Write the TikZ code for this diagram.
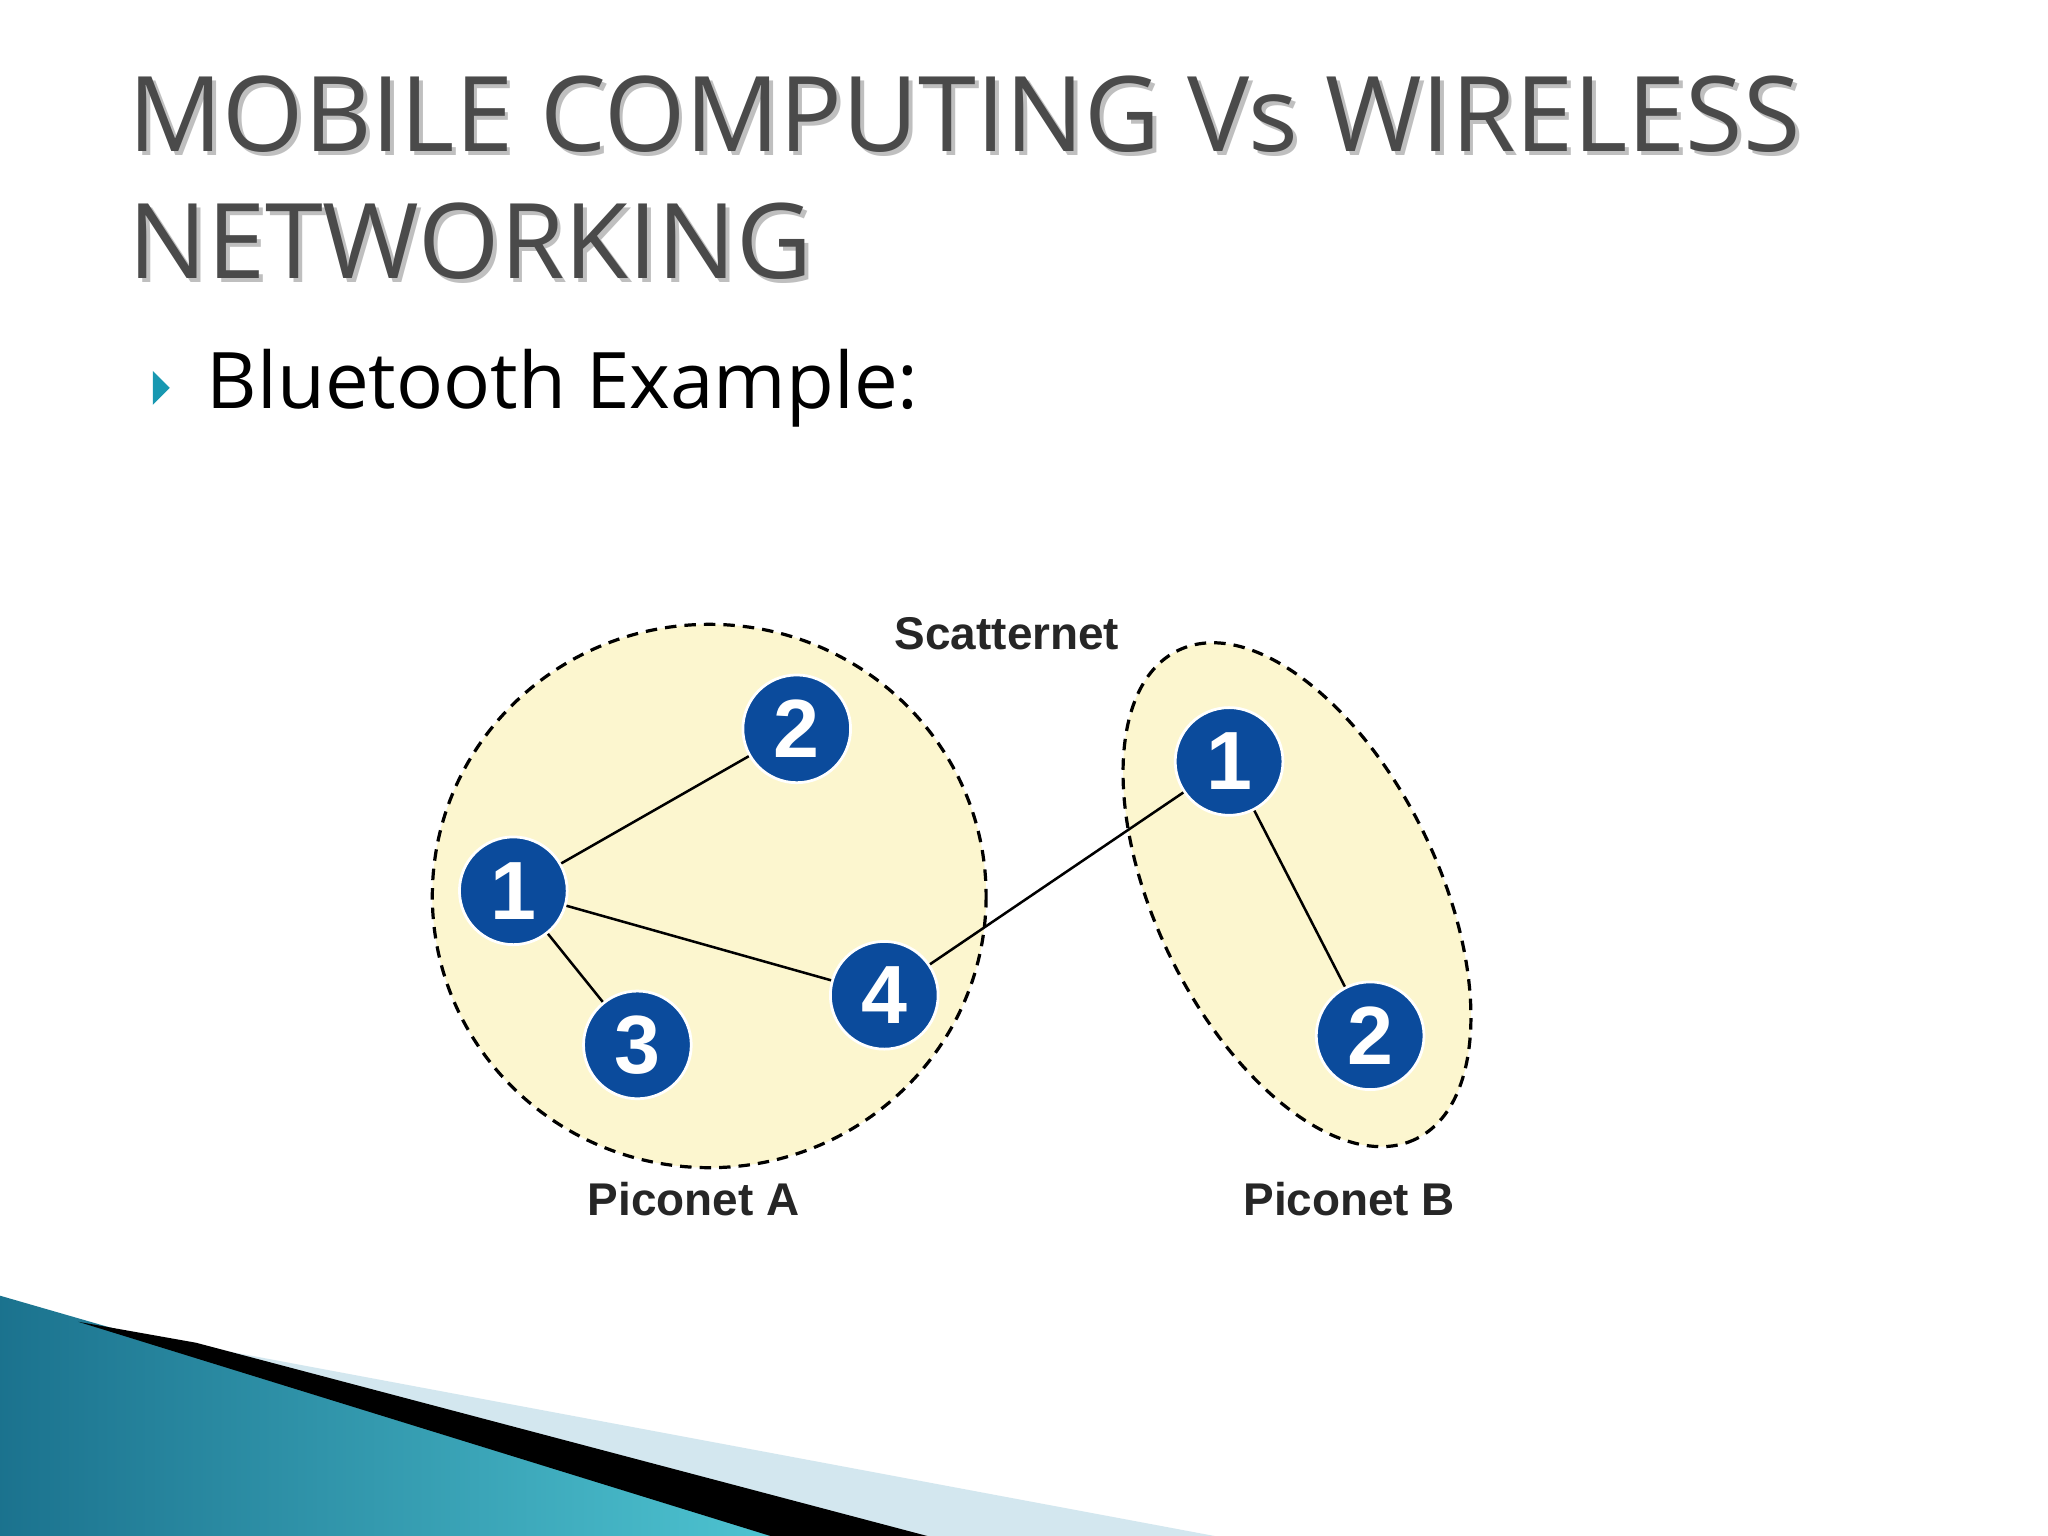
\documentclass[tikz,border=0pt]{standalone}
\usepackage{fontspec}
\setmainfont{Open Sans}
\newfontfamily\lab{Liberation Sans}
\definecolor{ttl}{HTML}{4A4A4A}
\definecolor{nodeblue}{HTML}{0B4B9C}
\definecolor{pale}{HTML}{FCF6CF}
\definecolor{teal}{HTML}{1E7F9E}
\definecolor{lightband}{HTML}{D3E7EF}
\tikzset{
  dev/.style={circle,fill=nodeblue,draw=white,line width=1.2pt,minimum size=1.65cm,inner sep=0pt,text=white,font=\lab\bfseries\fontsize{36}{36}\selectfont},
  net/.style={draw=black,dash pattern=on 5pt off 3.5pt,line width=1.4pt,fill=pale},
  link/.style={line width=1.1pt},
  lbl/.style={font=\lab\bfseries\fontsize{20}{22}\selectfont,text=black!85},
  ttlfont/.style={anchor=base west,inner sep=0,font=\fontsize{45.5}{50}\selectfont}
}
\begin{document}
\begin{tikzpicture}[x=0.02cm,y=-0.02cm]
\useasboundingbox (0,0) rectangle (1568,1176);
\fill[white] (0,0) rectangle (1568,1176);
% title
\node[ttlfont,text=black!25] at (101,119) {MOBILE COMPUTING Vs WIRELESS};
\node[ttlfont,text=ttl] (t1) at (98,116) {MOBILE COMPUTING Vs WIRELESS};
\node[ttlfont,text=black!25] at (101,216) {NETWORKING};
\node[ttlfont,text=ttl] (t2) at (98,213) {NETWORKING};
% bullet
\fill[teal!80!cyan] (117,284) -- (130,297) -- (117,310) -- cycle;
\node[anchor=base west,inner sep=0,font=\fontsize{34}{38}\selectfont] (b) at (158,313) {Bluetooth Example:};
% piconets
\draw[net] (543,686) ellipse [x radius=212,y radius=208];
\draw[net,rotate around={-64:(993,685)}] (993,685) ellipse [x radius=208,y radius=108];
% devices
\node[dev] (a1) at (393,682) {1};
\node[dev] (a2) at (610,558) {2};
\node[dev] (a3) at (488,800) {3};
\node[dev] (a4) at (677,762) {4};
\node[dev] (b1) at (941,583) {1};
\node[dev] (b2) at (1049,793) {2};
\draw[link] (a1) -- (a2);
\draw[link] (a1) -- (a3);
\draw[link] (a1) -- (a4);
\draw[link] (a4) -- (b1);
\draw[link] (b1) -- (b2);
% labels
\node[lbl] (s) at (771,485) {Scatternet};
\node[lbl] (pa) at (531,918) {Piconet A};
\node[lbl] (pb) at (1033,918) {Piconet B};
% swoosh
\shade[left color=teal!90!black,right color=cyan!50!teal!70] (0,992) -- (90,1018) -- (700,1176) -- (0,1176) -- cycle;
\fill[lightband] (150,1030) -- (930,1176) -- (700,1176) -- cycle;
\fill[black] (60,1012) -- (150,1028) -- (710,1176) -- (590,1176) -- cycle;
\end{tikzpicture}
\end{document}
